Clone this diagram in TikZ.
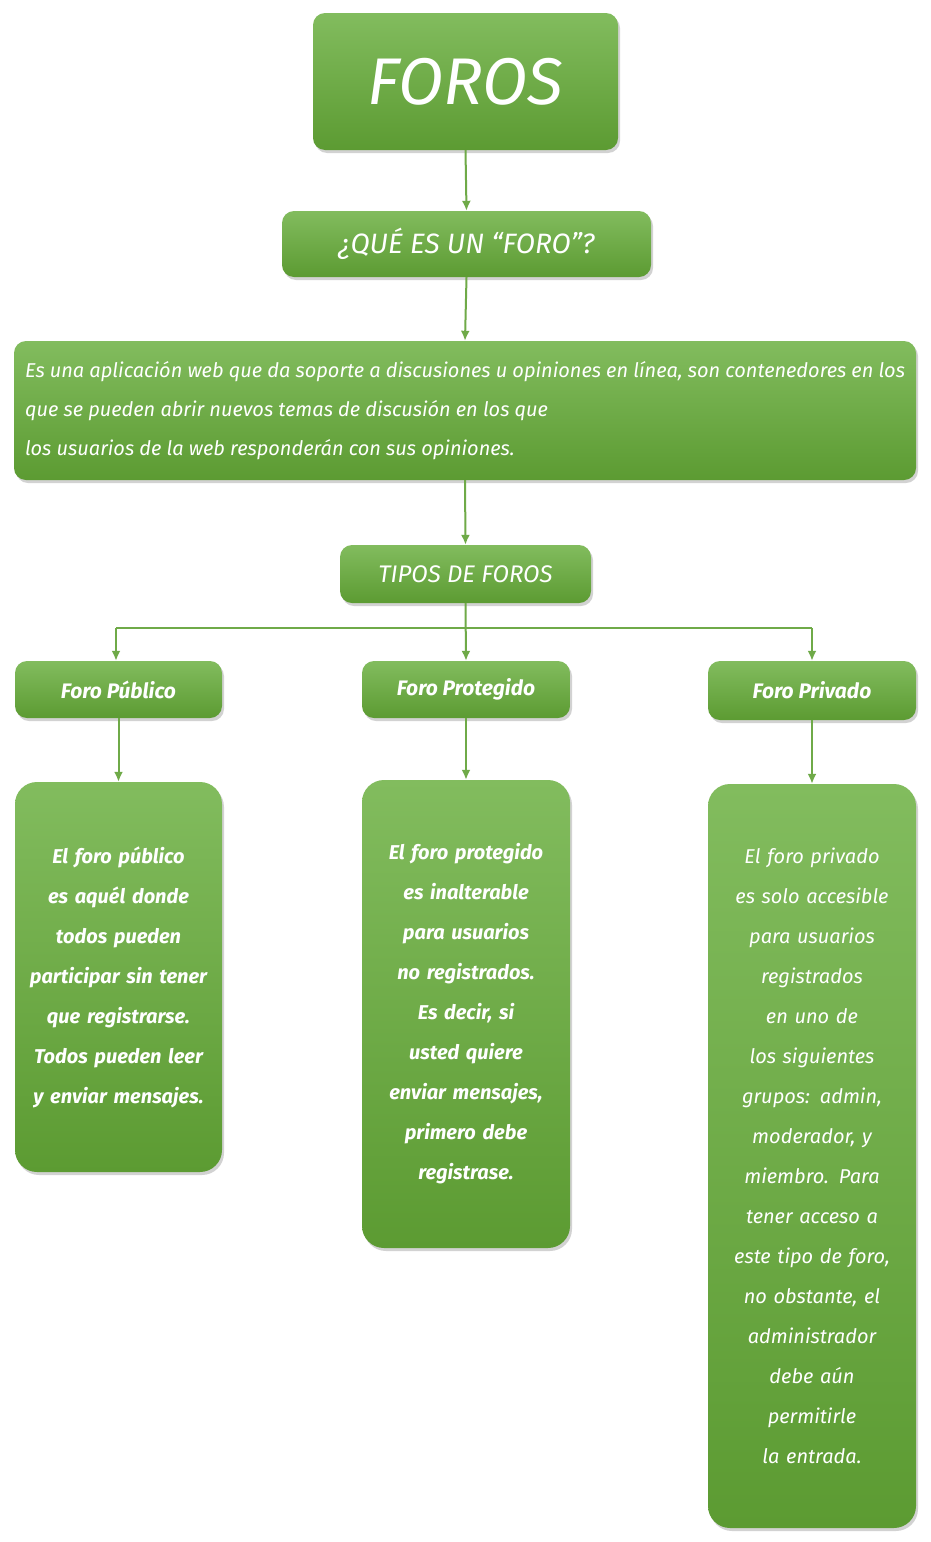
\documentclass[tikz,border=0pt]{standalone}
\usepackage{fontspec}
\setmainfont{Fira Sans}
\usetikzlibrary{shadows}
\definecolor{gtop}{HTML}{82BC5E}
\definecolor{gbot}{HTML}{5C9B32}
\definecolor{lin}{HTML}{6FAA48}
\tikzset{
 gbox/.style={rectangle, rounded corners=12pt, top color=gtop, bottom color=gbot, draw=none,
   text=white, font=\itshape, align=center, inner sep=0pt, drop shadow={shadow xshift=2pt,shadow yshift=-3pt,opacity=0.35}},
 arr/.style={draw=lin, line width=2pt, -{Latex[length=10pt,width=9pt]}},
}
\usetikzlibrary{arrows.meta}
\begin{document}
\begin{tikzpicture}[x=1pt,y=-1pt]
\useasboundingbox[fill=white] (0,0) rectangle (930,1542);
\node[gbox, minimum width=305pt, minimum height=137pt, font=\itshape\fontsize{66}{70}\selectfont] (foros) at (465.5,81.5) {FOROS};
\node[gbox, minimum width=369pt, minimum height=66pt, font=\itshape\fontsize{28}{32}\selectfont] (que) at (466.5,244) {¿QUÉ ES UN “FORO”?};
\node[gbox, minimum width=902pt, minimum height=139pt, text width=880pt, font=\itshape\fontsize{20}{39}\selectfont, align=justify] (desc) at (465,410.5) {Es una aplicación web que da soporte a discusiones u opiniones en línea, son contenedores en los que se pueden abrir nuevos temas de discusión en los que\par\centering los usuarios de la web responderán con sus opiniones.};
\node[gbox, minimum width=251pt, minimum height=58pt, font=\itshape\fontsize{24}{28}\selectfont] (tipos) at (465.5,574) {TIPOS DE FOROS};
\node[gbox, minimum width=207pt, minimum height=57pt, font=\itshape\bfseries\fontsize{21}{25}\selectfont] (pub) at (118.5,689.5) {Foro Público};
\node[gbox, minimum width=208pt, minimum height=57pt, font=\itshape\bfseries\fontsize{21}{25}\selectfont] (pro) at (466,689.5) {Foro Protegido};
\node[gbox, minimum width=208pt, minimum height=59pt, font=\itshape\bfseries\fontsize{21}{25}\selectfont] (pri) at (812,690.5) {Foro Privado};
\tikzset{body/.style={gbox, rounded corners=22pt, text width=180pt, font=\itshape\bfseries\fontsize{20}{40}\selectfont}}
\node[body, minimum width=207pt, minimum height=390pt] (tpub) at (118.5,977) {El foro público es aquél donde todos pueden participar sin tener que registrarse. Todos pueden leer y enviar mensajes.};
\node[body, minimum width=208pt, minimum height=468pt, text width=165pt] (tpro) at (466,1014) {El foro protegido es inalterable para usuarios no registrados. Es decir, si usted quiere enviar mensajes, primero debe registrase.};
\node[body, minimum width=208pt, minimum height=744pt, text width=160pt, font=\itshape\fontsize{20}{40}\selectfont] (tpri) at (812,1156) {El foro privado es solo accesible para usuarios registrados en uno de los siguientes grupos: admin, moderador, y miembro. Para tener acceso a este tipo de foro, no obstante, el administrador debe aún permitirle la entrada.};
\draw[arr] (foros.south) -- (que.north);
\draw[arr] (que.south) -- (desc.north);
\draw[arr] (desc.south) -- (tipos.north);
\draw[arr] (tipos.south) -- (pro.north);
\coordinate (hl) at (116,628);
\coordinate (hr) at (812,628);
\draw[arr] (hl) -- (hl |- pub.north);
\draw[arr] (hr) -- (hr |- pri.north);
\draw[draw=lin, line width=2pt] (hl) -- (hr);
\draw[arr] (pub.south) -- (tpub.north);
\draw[arr] (pro.south) -- (tpro.north);
\draw[arr] (pri.south) -- (tpri.north);
\end{tikzpicture}
\end{document}
